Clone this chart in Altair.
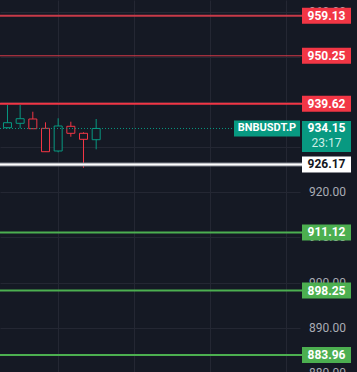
import altair as alt
import pandas as pd

BG = "#151924"

# --- candles (index, OHLC) ---
idx = [1, 2, 3, 4, 5, 6, 7, 8]
opens = [934.32, 935.29, 936.25, 934.18, 929.16, 934.63, 933.08, 931.66]
highs = [939.35, 939.35, 937.86, 935.51, 936.40, 935.65, 933.30, 936.25]
lows = [934.20, 934.18, 934.10, 929.00, 928.87, 932.32, 925.46, 929.53]
closes = [935.43, 936.31, 934.10, 929.00, 934.70, 933.08, 931.75, 934.15]

# --- horizontal levels ---
level_values = [959.13, 950.25, 939.62, 926.17, 911.12, 898.25, 883.96]
level_kinds = ["res_far", "res_mid", "res", "pivot", "sup", "sup", "sup"]

# --- current price ---
symbol = ["BNBUSDT.P"]
last_price = [934.15]
countdown = ["23:17"]

# --- axis ticks ---
price_ticks = [880, 890, 900, 910, 920, 930, 940, 950, 960]
time_grid = [5, 11, 17, 23]

UP = "#089981"
DOWN = "#f23645"
GREEN = "#4caf50"

candles = pd.DataFrame({"i": idx, "o": opens, "h": highs, "l": lows, "c": closes})
levels = pd.DataFrame({"v": level_values, "kind": level_kinds})
cur = pd.DataFrame({"sym": symbol, "p": last_price, "t": countdown})
ticks = pd.DataFrame({"v": price_ticks})

yscale = alt.Scale(domain=[880.20, 962.61], nice=False, zero=False)
xscale = alt.Scale(domain=[0.805, 23.69], nice=False, zero=False)

base_c = alt.Chart(candles).transform_calculate(
    dir="datum.c >= datum.o ? 'up' : 'down'"
)

grid_layer = base_c.mark_rule(opacity=0).encode(
    x=alt.X("i:Q", scale=xscale,
            axis=alt.Axis(values=time_grid, labels=False, ticks=False, domain=False,
                          grid=True, gridColor="#242733", gridWidth=1, title=None)),
    y=alt.Y("l:Q", scale=yscale,
            axis=alt.Axis(orient="right", values=price_ticks, labels=False,
                          ticks=False, domain=False, grid=True,
                          gridColor="#242733", gridWidth=1, title=None)),
    y2="h:Q",
)

tick_labels = alt.Chart(ticks).mark_text(
    font="Roboto", fontSize=12, color="#a9acb5", align="right", baseline="middle"
).encode(
    y=alt.Y("v:Q", scale=yscale), x=alt.value(346), text=alt.Text("v:Q", format=".2f")
)

def candle_layers(direction, color):
    sub = base_c.transform_filter(alt.datum.dir == direction)
    wick = sub.mark_rule(strokeWidth=1, color=color).encode(
        x=alt.X("i:Q", scale=xscale), y=alt.Y("l:Q", scale=yscale), y2="h:Q"
    )
    body = sub.mark_bar(size=8, fill=BG, stroke=color, strokeWidth=1).encode(
        x=alt.X("i:Q", scale=xscale), y=alt.Y("o:Q", scale=yscale), y2="c:Q"
    )
    return [wick, body]

lv = alt.Chart(levels)

def only(kinds):
    return lv.transform_filter(alt.FieldOneOfPredicate(field="kind", oneOf=kinds))

def level_rule(kinds, color, width):
    return only(kinds).mark_rule(color=color, strokeWidth=width).encode(
        y=alt.Y("v:Q", scale=yscale), x=alt.value(0), x2=alt.value(302)
    )

def level_box(kinds, color):
    return only(kinds).mark_rule(color=color, strokeWidth=16, strokeCap="butt").encode(
        y=alt.Y("v:Q", scale=yscale), x=alt.value(302), x2=alt.value(351)
    )

def level_text(kinds, color):
    return only(kinds).mark_text(font="Roboto", fontSize=12, fontWeight="bold",
                                 color=color, align="center", baseline="middle").encode(
        y=alt.Y("v:Q", scale=yscale), x=alt.value(326.5),
        text=alt.Text("v:Q", format=".2f"),
    )

RES = ["res_far", "res_mid", "res"]

cp = alt.Chart(cur)
cur_line = cp.mark_rule(color=UP, strokeWidth=1, strokeDash=[1, 2]).encode(
    y=alt.Y("p:Q", scale=yscale), x=alt.value(0), x2=alt.value(234)
)
sym_box = cp.mark_rule(color=UP, strokeWidth=16, strokeCap="butt").encode(
    y=alt.Y("p:Q", scale=yscale), x=alt.value(234), x2=alt.value(300)
)
sym_text = cp.mark_text(font="Roboto", fontSize=11, fontWeight="bold", color="#ffffff",
                        align="center", baseline="middle").encode(
    y=alt.Y("p:Q", scale=yscale), x=alt.value(267), text="sym:N"
)
price_box = cp.mark_rule(color=UP, strokeWidth=31, strokeCap="butt", yOffset=8).encode(
    y=alt.Y("p:Q", scale=yscale), x=alt.value(302), x2=alt.value(351)
)
price_text = cp.mark_text(font="Roboto", fontSize=12, fontWeight="bold", color="#ffffff",
                          align="center", baseline="middle").encode(
    y=alt.Y("p:Q", scale=yscale), x=alt.value(326.5), text=alt.Text("p:Q", format=".2f")
)
timer_text = cp.mark_text(font="Roboto", fontSize=12, color="#cfeee7", align="center",
                          baseline="middle", yOffset=15).encode(
    y=alt.Y("p:Q", scale=yscale), x=alt.value(326.5), text="t:N"
)

layers = [grid_layer, tick_labels]
layers += candle_layers("up", UP)
layers += candle_layers("down", DOWN)
layers += [
    cur_line,
    level_rule(["res_far"], "#c73a48", 2),
    level_rule(["res_mid"], "#d83a49", 1),
    level_rule(["res"], DOWN, 2),
    level_rule(["pivot"], "#80838d", 4),
    level_rule(["pivot"], "#ffffff", 2),
    level_rule(["sup"], GREEN, 2),
    level_box(RES, DOWN), level_box(["pivot"], "#ffffff"), level_box(["sup"], GREEN),
    level_text(RES, "#ffffff"), level_text(["pivot"], "#131722"),
    level_text(["sup"], "#ffffff"),
    sym_box, sym_text, price_box, price_text, timer_text,
]

chart = alt.layer(*layers).properties(
    width=300, height=372,
    padding={"left": 0, "right": 57, "top": 0, "bottom": 0},
    autosize="none",
    background=BG,
).configure_view(stroke=None, fill=BG)

chart.save("out.html", embed_options={"renderer": "svg", "actions": False})
